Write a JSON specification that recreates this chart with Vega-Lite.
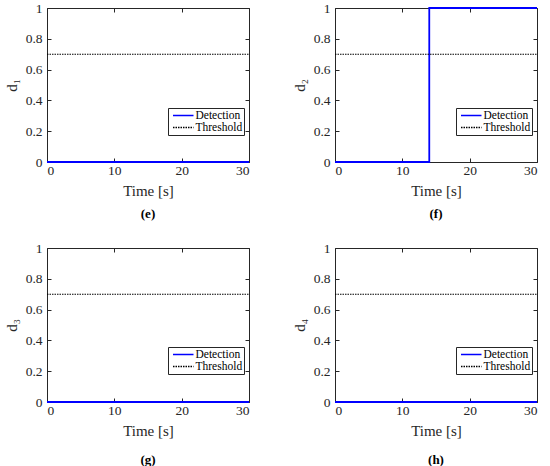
{
  "$schema": "https://vega.github.io/schema/vega-lite/v6.json",
  "background": "white",
  "padding": {"left": 3, "top": 0, "right": 5, "bottom": 0},
  "datasets": {
    "d": [
      {"panel": "e", "series": "Detection", "i": 1, "t": 0, "v": 0},
      {"panel": "e", "series": "Detection", "i": 2, "t": 30, "v": 0},
      {"panel": "e", "series": "Threshold", "i": 1, "t": 0, "v": 0.7},
      {"panel": "e", "series": "Threshold", "i": 2, "t": 30, "v": 0.7},
      {"panel": "f", "series": "Detection", "i": 1, "t": 0, "v": 0},
      {"panel": "f", "series": "Detection", "i": 2, "t": 14, "v": 0},
      {"panel": "f", "series": "Detection", "i": 3, "t": 14, "v": 1},
      {"panel": "f", "series": "Detection", "i": 4, "t": 30, "v": 1},
      {"panel": "f", "series": "Threshold", "i": 1, "t": 0, "v": 0.7},
      {"panel": "f", "series": "Threshold", "i": 2, "t": 30, "v": 0.7},
      {"panel": "g", "series": "Detection", "i": 1, "t": 0, "v": 0},
      {"panel": "g", "series": "Detection", "i": 2, "t": 30, "v": 0},
      {"panel": "g", "series": "Threshold", "i": 1, "t": 0, "v": 0.7},
      {"panel": "g", "series": "Threshold", "i": 2, "t": 30, "v": 0.7},
      {"panel": "h", "series": "Detection", "i": 1, "t": 0, "v": 0},
      {"panel": "h", "series": "Detection", "i": 2, "t": 30, "v": 0},
      {"panel": "h", "series": "Threshold", "i": 1, "t": 0, "v": 0.7},
      {"panel": "h", "series": "Threshold", "i": 2, "t": 30, "v": 0.7}
    ]
  },
  "data": {"name": "d"},
  "columns": 2,
  "spacing": {"column": 37, "row": 19},
  "resolve": {"scale": {"color": "independent", "strokeDash": "independent"}},
  "concat": [
    {
      "width": 202, "height": 154,
      "title": {"text": "(e)", "offset": 9},
      "transform": [{"filter": "datum.panel == 'e'"}],
      "layer": [
        {
          "mark": {"type": "line"},
          "encoding": {
            "x": {"field": "t", "type": "quantitative", "scale": {"domain": [0, 30]}, "axis": {"title": "Time [s]", "values": [0, 10, 20, 30], "labelFont": "Liberation Serif", "labelFontSize": 13.5, "titleFont": "Liberation Serif", "titleFontSize": 15, "titleFontWeight": "normal"}},
            "y": {"field": "v", "type": "quantitative", "scale": {"domain": [0, 1]}, "axis": {"title": "d₁", "values": [0, 0.2, 0.4, 0.6, 0.8, 1], "format": "~g", "labelFont": "Liberation Serif", "labelFontSize": 13.5, "titleFont": "Liberation Serif", "titleFontSize": 15, "titleFontWeight": "normal"}},
            "color": {"field": "series", "type": "nominal", "scale": {"domain": ["Detection", "Threshold"], "range": ["#0000ff", "#000000"]}, "legend": {"orient": "none", "legendX": 121, "legendY": 100}},
            "strokeDash": {"field": "series", "type": "nominal", "scale": {"domain": ["Detection", "Threshold"], "range": [[1, 0], [1.5, 1]]}},
            "size": {"field": "series", "type": "nominal", "scale": {"domain": ["Detection", "Threshold"], "range": [1.8, 1.1]}, "legend": null},
            "order": {"field": "i"}
          }
        },
        {
          "mark": {"type": "line", "opacity": 0},
          "encoding": {
            "x": {"field": "t", "type": "quantitative", "axis": {"orient": "top", "labels": false, "title": null, "values": [0, 10, 20, 30]}},
            "y": {"field": "v", "type": "quantitative", "axis": {"orient": "right", "labels": false, "title": null, "values": [0, 0.2, 0.4, 0.6, 0.8, 1]}}
          }
        }
      ],
      "resolve": {"axis": {"x": "independent", "y": "independent"}}
    },
    {
      "width": 202, "height": 154,
      "title": {"text": "(f)", "offset": 9},
      "transform": [{"filter": "datum.panel == 'f'"}],
      "layer": [
        {
          "mark": {"type": "line"},
          "encoding": {
            "x": {"field": "t", "type": "quantitative", "scale": {"domain": [0, 30]}, "axis": {"title": "Time [s]", "values": [0, 10, 20, 30], "labelFont": "Liberation Serif", "labelFontSize": 13.5, "titleFont": "Liberation Serif", "titleFontSize": 15, "titleFontWeight": "normal"}},
            "y": {"field": "v", "type": "quantitative", "scale": {"domain": [0, 1]}, "axis": {"title": "d₂", "values": [0, 0.2, 0.4, 0.6, 0.8, 1], "format": "~g", "labelFont": "Liberation Serif", "labelFontSize": 13.5, "titleFont": "Liberation Serif", "titleFontSize": 15, "titleFontWeight": "normal"}},
            "color": {"field": "series", "type": "nominal", "scale": {"domain": ["Detection", "Threshold"], "range": ["#0000ff", "#000000"]}, "legend": {"orient": "none", "legendX": 121, "legendY": 100}},
            "strokeDash": {"field": "series", "type": "nominal", "scale": {"domain": ["Detection", "Threshold"], "range": [[1, 0], [1.5, 1]]}},
            "size": {"field": "series", "type": "nominal", "scale": {"domain": ["Detection", "Threshold"], "range": [1.8, 1.1]}, "legend": null},
            "order": {"field": "i"}
          }
        },
        {
          "mark": {"type": "line", "opacity": 0},
          "encoding": {
            "x": {"field": "t", "type": "quantitative", "axis": {"orient": "top", "labels": false, "title": null, "values": [0, 10, 20, 30]}},
            "y": {"field": "v", "type": "quantitative", "axis": {"orient": "right", "labels": false, "title": null, "values": [0, 0.2, 0.4, 0.6, 0.8, 1]}}
          }
        }
      ],
      "resolve": {"axis": {"x": "independent", "y": "independent"}}
    },
    {
      "width": 202, "height": 154,
      "title": {"text": "(g)", "offset": 15},
      "transform": [{"filter": "datum.panel == 'g'"}],
      "layer": [
        {
          "mark": {"type": "line"},
          "encoding": {
            "x": {"field": "t", "type": "quantitative", "scale": {"domain": [0, 30]}, "axis": {"title": "Time [s]", "values": [0, 10, 20, 30], "labelFont": "Liberation Serif", "labelFontSize": 13.5, "titleFont": "Liberation Serif", "titleFontSize": 15, "titleFontWeight": "normal"}},
            "y": {"field": "v", "type": "quantitative", "scale": {"domain": [0, 1]}, "axis": {"title": "d₃", "values": [0, 0.2, 0.4, 0.6, 0.8, 1], "format": "~g", "labelFont": "Liberation Serif", "labelFontSize": 13.5, "titleFont": "Liberation Serif", "titleFontSize": 15, "titleFontWeight": "normal"}},
            "color": {"field": "series", "type": "nominal", "scale": {"domain": ["Detection", "Threshold"], "range": ["#0000ff", "#000000"]}, "legend": {"orient": "none", "legendX": 121, "legendY": 99}},
            "strokeDash": {"field": "series", "type": "nominal", "scale": {"domain": ["Detection", "Threshold"], "range": [[1, 0], [1.5, 1]]}},
            "size": {"field": "series", "type": "nominal", "scale": {"domain": ["Detection", "Threshold"], "range": [1.8, 1.1]}, "legend": null},
            "order": {"field": "i"}
          }
        },
        {
          "mark": {"type": "line", "opacity": 0},
          "encoding": {
            "x": {"field": "t", "type": "quantitative", "axis": {"orient": "top", "labels": false, "title": null, "values": [0, 10, 20, 30]}},
            "y": {"field": "v", "type": "quantitative", "axis": {"orient": "right", "labels": false, "title": null, "values": [0, 0.2, 0.4, 0.6, 0.8, 1]}}
          }
        }
      ],
      "resolve": {"axis": {"x": "independent", "y": "independent"}}
    },
    {
      "width": 202, "height": 154,
      "title": {"text": "(h)", "offset": 15},
      "transform": [{"filter": "datum.panel == 'h'"}],
      "layer": [
        {
          "mark": {"type": "line"},
          "encoding": {
            "x": {"field": "t", "type": "quantitative", "scale": {"domain": [0, 30]}, "axis": {"title": "Time [s]", "values": [0, 10, 20, 30], "labelFont": "Liberation Serif", "labelFontSize": 13.5, "titleFont": "Liberation Serif", "titleFontSize": 15, "titleFontWeight": "normal"}},
            "y": {"field": "v", "type": "quantitative", "scale": {"domain": [0, 1]}, "axis": {"title": "d₄", "values": [0, 0.2, 0.4, 0.6, 0.8, 1], "format": "~g", "labelFont": "Liberation Serif", "labelFontSize": 13.5, "titleFont": "Liberation Serif", "titleFontSize": 15, "titleFontWeight": "normal"}},
            "color": {"field": "series", "type": "nominal", "scale": {"domain": ["Detection", "Threshold"], "range": ["#0000ff", "#000000"]}, "legend": {"orient": "none", "legendX": 121, "legendY": 99}},
            "strokeDash": {"field": "series", "type": "nominal", "scale": {"domain": ["Detection", "Threshold"], "range": [[1, 0], [1.5, 1]]}},
            "size": {"field": "series", "type": "nominal", "scale": {"domain": ["Detection", "Threshold"], "range": [1.8, 1.1]}, "legend": null},
            "order": {"field": "i"}
          }
        },
        {
          "mark": {"type": "line", "opacity": 0},
          "encoding": {
            "x": {"field": "t", "type": "quantitative", "axis": {"orient": "top", "labels": false, "title": null, "values": [0, 10, 20, 30]}},
            "y": {"field": "v", "type": "quantitative", "axis": {"orient": "right", "labels": false, "title": null, "values": [0, 0.2, 0.4, 0.6, 0.8, 1]}}
          }
        }
      ],
      "resolve": {"axis": {"x": "independent", "y": "independent"}}
    }
  ],
  "config": {
    "font": "Liberation Serif",
    "view": {"stroke": "#262626", "strokeWidth": 1},
    "axis": {
      "grid": false,
      "domain": false,
      "tickColor": "#262626",
      "tickSize": -4,
      "labelColor": "#262626",
      "titleColor": "#262626"
    },
    "axisX": {"labelPadding": 5, "titlePadding": 7},
    "axisY": {"labelPadding": 9, "titlePadding": 6},
    "legend": {
      "title": null,
      "labelFont": "Liberation Serif",
      "labelFontSize": 11.5,
      "labelColor": "#000000",
      "labelOffset": 14,
      "strokeColor": "#262626",
      "fillColor": "white",
      "padding": 1.5,
      "rowPadding": 0,
      "symbolType": "M-0.5,0L3.6,0",
      "symbolSize": 100,
      "symbolStrokeWidth": 1.6
    },
    "title": {
      "orient": "bottom",
      "anchor": "middle",
      "font": "Liberation Serif",
      "fontSize": 13,
      "fontWeight": "bold",
      "color": "#000000"
    }
  }
}
